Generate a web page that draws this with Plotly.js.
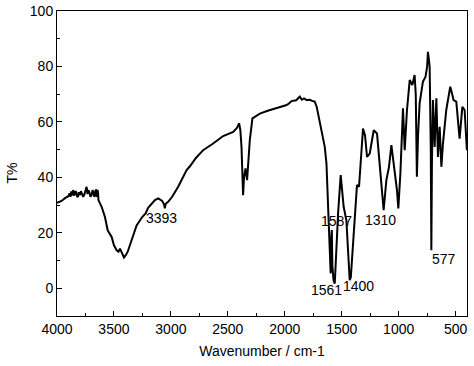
<!DOCTYPE html>
<html>
<head>
<meta charset="utf-8">
<script src="https://cdn.plot.ly/plotly-3.0.1.min.js"></script>
<style>html,body{margin:0;padding:0;background:#fff;}#chart{width:474px;height:366px;}</style>
</head>
<body>
<div id="chart"></div>
<script>
const wavenumber = [4000,3960,3930,3900,3890,3880,3875,3870,3862,3857,3850,3845,3838,3830,3822,3815,3806,3798,3790,3780,3770,3760,3752,3745,3740,3732,3724,3715,3706,3696,3688,3680,3672,3665,3660,3655,3648,3644,3640,3636,3608,3579,3555,3520,3500,3476,3460,3447,3430,3412,3395,3380,3345,3301,3252,3222,3200,3170,3140,3111,3076,3060,3053,3045,3024,2989,2936,2862,2833,2780,2717,2629,2541,2453,2420,2401,2390,2380,2372,2366,2358,2345,2331,2320,2307,2284,2219,2150,2073,2020,1990,1971,1940,1900,1868,1850,1830,1810,1780,1760,1737,1720,1708,1680,1664,1649,1634,1620,1611,1603,1597,1592,1587,1582,1572,1561,1548,1532,1509,1495,1483,1459,1445,1430,1420,1406,1386,1366,1348,1330,1313,1295,1278,1254,1219,1190,1160,1132,1108,1085,1064,1044,1015,1003,985,962,947,927,903,880,860,850,840,830,816,787,764,750,743,736,728,718,713,708,699,684,669,655,640,625,611,582,547,530,518,494,475,465,441,421,401];
const transmittance = [30.8,31.5,32.5,33.2,34.2,33.0,35.0,33.5,34.8,35.4,33.4,33.8,35.0,34.6,32.9,33.2,34.6,33.6,35.0,34.2,33.0,33.8,35.0,35.5,36.6,34.0,35.4,34.5,33.0,33.6,35.4,34.8,33.0,33.4,35.6,35.2,33.0,35.5,34.6,31.8,29.4,25.7,20.9,18.5,15.5,13.7,13.2,14.3,12.5,11.1,12.0,13.1,17.3,22.7,25.7,27,29,30.6,31.8,32.4,31.5,30.2,28.8,30.5,31.2,33,36.6,42.6,44,47,49.8,52.2,54.9,56.4,57.8,59.5,57,51,42,33.6,40,43.2,39,46,53.4,61.3,63,64,64.9,65.8,66,66.4,67.5,67.8,69.1,68,68.5,67.9,68,67.6,67.3,65.5,63,58,54.6,51,45,28.8,22,10,5.3,18,21,8,3,1.7,14,27,40.8,35,29.4,24.5,14,2.9,4,13.7,24.5,37.2,36.6,48,57.6,55,47.4,48.6,57,55.8,42.6,28.2,39,43.8,51.6,45,35.4,28.8,41.4,64.9,49.8,64.3,75.1,73.3,76.9,70,40.2,55,66.7,74.5,76.3,80,85.3,83,79.9,50,13.7,45,67.9,51,68.5,47.4,58.2,43.8,52.2,64.3,72.7,70,67.9,67.3,60,54,65.4,64.3,49.8];
const peakLabels = ["3393","1587","1310","1561","1400","577"];
const peakLabelX = [3079,1547,1158,1632,1349,603];
const peakLabelY = [25.4,24.3,24.5,-0.7,1.0,10.7];
const xTickVals = [4000,3500,3000,2500,2000,1500,1000,500];
const yTickVals = [0,20,40,60,80,100];

const font = 'Liberation Sans, Arial, sans-serif';
const trace = {
  x: wavenumber, y: transmittance, type: 'scatter', mode: 'lines',
  line: {color: '#000', width: 2}, hoverinfo: 'skip'
};
const annotations = peakLabels.map((t, i) => ({
  x: peakLabelX[i], y: peakLabelY[i], xref: 'x', yref: 'y', text: t,
  showarrow: false, font: {family: font, size: 14, color: '#000'}
}));
annotations.push({
  x: -0.11, y: 0.47, xref: 'paper', yref: 'paper', text: 'T%', textangle: -90,
  showarrow: false, xanchor: 'center', yanchor: 'middle',
  font: {family: font, size: 14, color: '#000'}
});
const layout = {
  width: 474, height: 366,
  margin: {l: 57, r: 7, t: 11, b: 50},
  paper_bgcolor: '#fff', plot_bgcolor: '#fff',
  showlegend: false,
  font: {family: font, size: 14, color: '#000'},
  xaxis: {
    range: [4000, 400], tickvals: xTickVals, ticktext: xTickVals.map(String),
    ticks: 'inside', ticklen: 5, tickwidth: 1, tickcolor: '#000',
    minor: {dtick: 250, tick0: 0, ticks: 'inside', ticklen: 3, tickcolor: '#000', showgrid: false},
    showline: true, linecolor: '#000', linewidth: 1, mirror: true,
    showgrid: false, zeroline: false,
    tickfont: {family: font, size: 14, color: '#000'},
    title: {text: 'Wavenumber / cm-1', font: {family: font, size: 14, color: '#000'}, standoff: 10}
  },
  yaxis: {
    range: [-10, 100], tickvals: yTickVals, ticktext: yTickVals.map(String),
    ticks: 'inside', ticklen: 5, tickwidth: 1, tickcolor: '#000',
    minor: {dtick: 10, tick0: 0, ticks: 'inside', ticklen: 3, tickcolor: '#000', showgrid: false},
    showline: true, linecolor: '#000', linewidth: 1, mirror: true,
    showgrid: false, zeroline: false,
    tickfont: {family: font, size: 14, color: '#000'}
  },
  annotations: annotations
};
Plotly.newPlot('chart', [trace], layout, {displayModeBar: false, staticPlot: true});
</script>
</body>
</html>
